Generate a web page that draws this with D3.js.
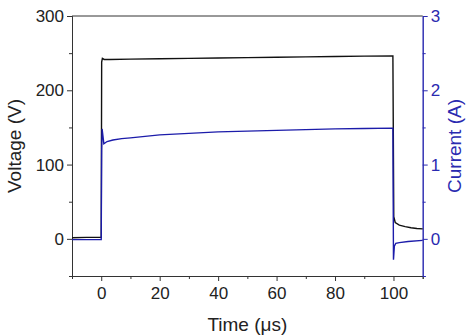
<!DOCTYPE html>
<html>
<head>
<meta charset="utf-8">
<script src="https://cdn.jsdelivr.net/npm/d3@7"></script>
<style>
  body { margin: 0; background: #fff; }
  svg { display: block; font-family: "Liberation Sans", Arial, sans-serif; }
  .axis path, .axis line { stroke: #333; }
  .axis text { fill: #222; font-size: 17px; }
  .axis-right path, .axis-right line { stroke: #2a2ab0; }
  .axis-right text { fill: #2a2ab0; font-size: 17px; }
  .title { font-size: 19px; fill: #222; }
</style>
</head>
<body>
<div id="chart"></div>
<script>
// Pulse measurement: voltage (left axis, black) and current (right axis, blue)
// Values read off the reference picture.

const voltageTime = [-10, -5, 0, 0.15, 0.4, 1, 3, 10, 20, 30, 40, 50, 60, 70, 80, 90, 99.8, 100.1, 100.6, 102, 104, 106, 108, 110];
const voltage     = [1.5, 2, 2, 238, 243, 241.5, 241.5, 242, 242.5, 243, 243.5, 244, 244.5, 245, 245.5, 246, 246.3, 30, 22, 18.5, 16.5, 15, 14, 13.5];

const currentTime = [-10, -5, 0, 0.15, 0.3, 0.9, 2, 4, 7, 10, 15, 20, 30, 40, 50, 60, 70, 80, 90, 99.8, 100, 100.3, 100.8, 102, 105, 110];
const current     = [-0.01, -0.01, -0.01, 1.2, 1.48, 1.28, 1.31, 1.33, 1.35, 1.36, 1.38, 1.40, 1.42, 1.44, 1.45, 1.46, 1.47, 1.48, 1.485, 1.49, -0.28, -0.1, -0.06, -0.05, -0.035, -0.02];

const timeMajor = [0, 20, 40, 60, 80, 100];
const timeMinor = [-10, 10, 30, 50, 70, 90, 110];
const voltMajor = [0, 100, 200, 300];
const voltMinor = [-50, 50, 150, 250];
const currMajor = [0, 1, 2, 3];
const currMinor = [-0.5, 0.5, 1.5, 2.5];

const W = 474, H = 336;
const margin = { top: 16, right: 51.3, bottom: 60, left: 72 };
const innerW = W - margin.left - margin.right;
const innerH = H - margin.top - margin.bottom;

const svg = d3.select("#chart").append("svg")
  .attr("width", W)
  .attr("height", H);

const g = svg.append("g")
  .attr("transform", `translate(${margin.left},${margin.top})`);

const x = d3.scaleLinear().domain([-10, 110]).range([0, innerW]);
const yV = d3.scaleLinear().domain([-50, 300]).range([innerH, 0]);
const yI = d3.scaleLinear().domain([-0.5, 3]).range([innerH, 0]);

// minor ticks first, then major axes on top
g.append("g").attr("class", "axis")
  .attr("transform", `translate(0,${innerH})`)
  .call(d3.axisBottom(x).tickValues(timeMinor).tickSize(3).tickFormat(""));
g.append("g").attr("class", "axis")
  .attr("transform", `translate(0,${innerH})`)
  .call(d3.axisBottom(x).tickValues(timeMajor).tickSize(5).tickPadding(6).tickSizeOuter(0));

g.append("g").attr("class", "axis")
  .call(d3.axisLeft(yV).tickValues(voltMinor).tickSize(3).tickFormat(""));
g.append("g").attr("class", "axis")
  .call(d3.axisLeft(yV).tickValues(voltMajor).tickSize(5).tickPadding(3).tickSizeOuter(0));

g.append("g").attr("class", "axis-right")
  .attr("transform", `translate(${innerW},0)`)
  .call(d3.axisRight(yI).tickValues(currMinor).tickSize(3).tickFormat(""));
g.append("g").attr("class", "axis-right")
  .attr("transform", `translate(${innerW},0)`)
  .call(d3.axisRight(yI).tickValues(currMajor).tickSize(5).tickPadding(3)
    .tickSizeOuter(0).tickFormat(d3.format("d")));

// top frame line
g.append("line")
  .attr("x1", 0).attr("x2", innerW)
  .attr("y1", 0).attr("y2", 0)
  .attr("stroke", "#333");

const vData = voltageTime.map((t, i) => ({ t, v: voltage[i] }));
const iData = currentTime.map((t, i) => ({ t, v: current[i] }));

g.append("path")
  .datum(vData)
  .attr("fill", "none")
  .attr("stroke", "#111")
  .attr("stroke-width", 1.4)
  .attr("d", d3.line().x(d => x(d.t)).y(d => yV(d.v)));

g.append("path")
  .datum(iData)
  .attr("fill", "none")
  .attr("stroke", "#1c1caa")
  .attr("stroke-width", 1.4)
  .attr("d", d3.line().x(d => x(d.t)).y(d => yI(d.v)));

// axis titles
svg.append("text")
  .attr("class", "title")
  .attr("x", margin.left + innerW / 2)
  .attr("y", H - 5)
  .attr("text-anchor", "middle")
  .text("Time (\u03bcs)");

svg.append("text")
  .attr("class", "title")
  .attr("transform", `translate(21,${margin.top + innerH / 2}) rotate(-90)`)
  .attr("text-anchor", "middle")
  .text("Voltage (V)");

svg.append("text")
  .attr("class", "title")
  .attr("transform", `translate(461,${margin.top + innerH / 2}) rotate(-90)`)
  .attr("text-anchor", "middle")
  .style("fill", "#2a2ab0")
  .text("Current (A)");
</script>
</body>
</html>
